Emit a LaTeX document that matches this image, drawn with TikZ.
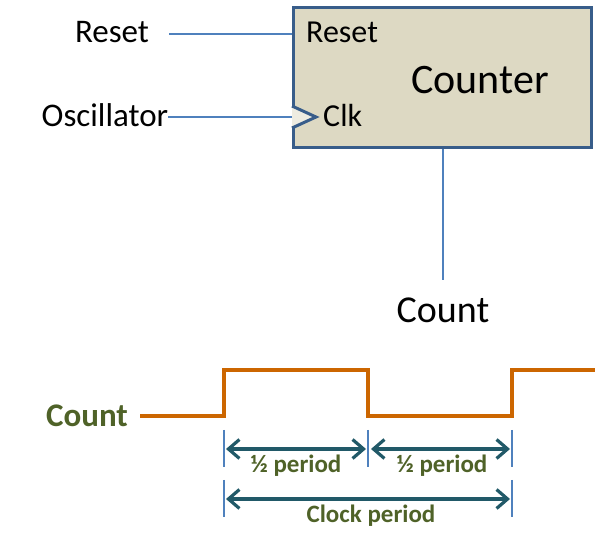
\documentclass[tikz,border=0pt]{standalone}
\usepackage{fontspec}
\setmainfont{Carlito}
\usetikzlibrary{positioning,calc,arrows.meta}
\definecolor{wireblue}{HTML}{4F81BD}
\definecolor{boxblue}{HTML}{385D8A}
\definecolor{boxfill}{HTML}{DDD9C3}
\definecolor{pinfill}{HTML}{EEECE1}
\definecolor{waveorange}{HTML}{CC6600}
\definecolor{dimteal}{HTML}{215968}
\definecolor{olive}{HTML}{4F6228}

\begin{document}
\begin{tikzpicture}[
    x=1pt, y=-1pt,
    lbl/.style={inner sep=0pt, anchor=base, font=\fontsize{33}{40}\selectfont},
    pinlbl/.style={lbl, anchor=base west},
    block/.style={draw=boxblue, line width=3pt, fill=boxfill, minimum width=298pt, minimum height=140pt, inner sep=0pt},
    clkpin/.style={draw=boxblue, line width=3pt, fill=pinfill, line join=miter},
    wire/.style={draw=wireblue, line width=2.2pt},
    wave/.style={draw=waveorange, line width=4pt, line join=miter},
    tick/.style={draw=wireblue, line width=2pt},
    dim/.style={{Straight Barb[length=11pt,width=19pt]}-{Straight Barb[length=11pt,width=19pt]}, draw=dimteal, line width=3.2pt},
    dimlbl/.style={inner sep=0pt, anchor=base, text=olive, font=\fontsize{25}{30}\selectfont\bfseries},
]
    \useasboundingbox (0,0) rectangle (595,545);

    % === COUNTER BLOCK ===
    \node[block] (ctr) at (442.5, 77.5) {};
    \node[lbl, font=\fontsize{42}{50}\selectfont] (ctrname) at (480, 94) {Counter};
    \node[pinlbl, font=\fontsize{32}{38}\selectfont] (rstin) at (306, 43) {Reset};
    \node[pinlbl, font=\fontsize{32}{38}\selectfont] (clkin) at (323, 127) {Clk};
    \draw[clkpin] (ctr.west |- 0, 106) -- (316, 117) -- (ctr.west |- 0, 128);

    % === INPUTS ===
    \node[lbl] (reset) at (112, 43) {Reset};
    \node[lbl] (osc) at (105, 127) {Oscillator};
    \coordinate (rstfrom) at (169, 34);
    \coordinate (oscfrom) at (168, 117);
    \draw[wire] (rstfrom) -- (ctr.west |- rstfrom);
    \draw[wire] (oscfrom) -- (ctr.west |- oscfrom);

    % === OUTPUT ===
    \node[lbl, font=\fontsize{38}{45}\selectfont] (cnt) at (443, 323) {Count};
    \coordinate (cntto) at (443, 280);
    \draw[wire] (ctr.south -| cntto) -- (cntto);

    % === WAVEFORM ===
    \node[lbl, text=olive, font=\fontsize{33}{40}\selectfont\bfseries] (cntwave) at (87, 427) {Count};
    \coordinate (w0) at (140, 416);
    \coordinate (rise1) at (224, 416);
    \coordinate (fall) at (368, 416);
    \coordinate (rise2) at (512, 416);
    \draw[wave] (w0) -- (rise1) -- ++(0, -46) -- (fall |- 0, 370) -- (fall) -- (rise2) -- ++(0, -46) -- (595, 370);

    % === TICKS ===
    \draw[tick] (224, 430) -- (224, 467);
    \draw[tick] (368, 430) -- (368, 467);
    \draw[tick] (512, 430) -- (512, 467);
    \draw[tick] (224, 480) -- (224, 517);
    \draw[tick] (512, 480) -- (512, 517);

    % === DIMENSIONS ===
    \draw[dim] (226, 449) -- (366, 449);
    \draw[dim] (371, 449) -- (510, 449);
    \draw[dim] (226, 499) -- (510, 499);
    \node[dimlbl] (half1) at (296, 472) {½ period};
    \node[dimlbl] (half2) at (442, 472) {½ period};
    \node[dimlbl] (period) at (371, 522) {Clock period};
\end{tikzpicture}
\end{document}
